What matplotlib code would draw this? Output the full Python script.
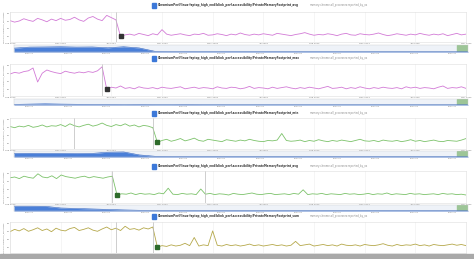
import matplotlib
matplotlib.use("Agg")
import matplotlib.pyplot as plt
import numpy as np

W, H = 474, 259

titles = [
    "ChromiumPerf/linux-laptop_high_end/blink_perf.accessibility/PrivateMemoryFootprint_avg",
    "ChromiumPerf/linux-laptop_high_end/blink_perf.accessibility/PrivateMemoryFootprint_max",
    "ChromiumPerf/linux-laptop_high_end/blink_perf.accessibility/PrivateMemoryFootprint_min",
    "ChromiumPerf/linux-laptop_high_end/blink_perf.accessibility/PrivateMemoryFootprint_avg",
    "ChromiumPerf/linux-laptop_high_end/blink_perf.accessibility/PrivateMemoryFootprint_sum",
]
subtitles = ["memory:chrome:all_processes:reported_by_os"] * 5

s1 = [62, 58, 61, 67, 63, 60, 68, 64, 59, 66, 62, 68, 63, 65, 71, 64, 60, 69, 73, 66, 62, 76, 70, 64,
      20, 24, 26, 23, 28, 25, 22, 27, 24, 38, 26, 23, 25, 27, 24, 22, 26, 25, 28, 23, 24, 27, 25, 22,
      26, 24, 29, 25, 23, 26, 24, 27, 25, 23, 28, 26, 24, 22, 25, 27, 30, 26, 23, 25, 24, 27, 25, 22,
      26, 28, 24, 23, 27, 25, 24, 26, 29, 25, 22, 24, 27, 25, 23, 26, 24, 28, 25, 23, 26, 24, 27, 22,
      25, 28, 24, 26]
s2 = [60, 64, 62, 66, 68, 75, 40, 62, 70, 66, 63, 61, 67, 64, 62, 65, 63, 66, 64, 68, 78,
      22, 27, 25, 30, 24, 26, 23, 28, 25, 24, 26, 23, 27, 25, 24, 26, 28, 23, 25, 27, 24, 26, 25,
      23, 28, 25, 24, 27, 26, 23, 25, 29, 24, 26, 25, 23, 27, 24, 26, 28, 25, 23, 26, 24, 27, 25,
      23, 26, 29, 24, 25, 27, 23, 26, 24, 28, 25, 23, 26, 24, 27, 25, 24, 26, 23, 28, 25, 27, 24,
      26, 25, 23, 27, 30, 24, 26, 25, 28, 24]
s3 = [63, 60, 64, 62, 66, 61, 63, 67, 62, 65, 64, 68, 63, 70, 65, 62, 66, 69, 64, 67, 72, 66, 63,
      68, 65, 70, 64, 67, 62, 66, 64, 60,
      22, 27, 30, 25, 28, 32, 26, 29, 33, 27, 25, 30, 28, 26, 24, 29, 27, 25, 28, 26, 30, 27, 25,
      24, 27, 26, 28, 45, 27, 25, 26, 28, 24, 27, 25, 29, 26, 24, 27, 25, 28, 26, 24, 27, 30, 26,
      25, 27, 24, 28, 26, 25, 27, 24, 26, 29, 25, 27, 24, 26, 28, 25, 24, 27, 26, 25, 28, 32]
s4 = [68, 70, 66, 72, 69, 67, 78, 70, 68, 73, 66, 75, 71, 69, 67, 70, 72, 68, 71, 69, 67, 70, 72,
      25, 28, 27, 30, 26, 29, 27, 28, 26, 30, 28, 42, 27, 26, 29, 27, 28, 26, 40, 27, 29, 26, 28,
      27, 25, 29, 27, 26, 28, 30, 27, 26, 28, 29, 26, 27, 28, 26, 29, 27, 38, 26, 28, 27, 29, 26,
      28, 27, 26, 29, 27, 28, 26, 27, 29, 26, 28, 27, 30, 26, 28, 27, 26, 29, 27, 28, 26, 27, 28,
      26, 29, 27, 28, 26, 27, 25]
s5 = [60, 66, 62, 68, 61, 65, 70, 63, 67, 60, 69, 64, 62, 68, 71, 63, 66, 70, 64, 61, 67, 72, 65,
      69, 63, 74, 66, 68, 64, 70, 67, 72,
      20, 24, 22, 26, 23, 25, 30, 24, 45, 23, 26, 24, 62, 25, 23, 27, 24, 26, 23, 25, 28, 24, 26,
      23, 25, 27, 24, 26, 23, 25, 35, 24, 26, 28, 23, 25, 27, 24, 26, 23, 28, 25, 24, 26, 23, 27,
      25, 24, 26, 29, 25, 23, 27, 24, 26, 25, 28, 24, 26, 23, 27, 25, 24, 26, 28, 25, 27, 24]
series = [s1, s2, s3, s4, s5]
drop_idx = [24, 21, 32, 23, 32]
extra_line_idx = [None, None, 14, 42, 23]

# overview (navigator) strips under the first four charts
nav1 = [0.55, 0.7, 0.72, 0.75, 0.7, 0.72, 0.6, 0.75, 0.58, 0.1, 0.08, 0.08, 0.08, 0.08, 0.08, 0.08, 0.08,
        0.08, 0.08, 0.08, 0.08, 0.08, 0.08, 0.08, 0.08, 0.08, 0.08, 0.08, 0.08, 0.08]
nav2 = [0.1, 0.15, 0.2, 0.15, 0.12, 0.1, 0.1, 0.08, 0.1, 0.08, 0.08, 0.1, 0.08, 0.08, 0.08, 0.08, 0.08, 0.08,
        0.08, 0.08, 0.08, 0.08, 0.08, 0.08, 0.08, 0.08, 0.08, 0.08, 0.08, 0.08]
nav3 = [0.6, 0.62, 0.6, 0.6, 0.58, 0.6, 0.8, 0.85, 0.35, 0.12, 0.1, 0.1, 0.1, 0.1, 0.1, 0.1, 0.1, 0.1,
        0.1, 0.1, 0.1, 0.1, 0.1, 0.1, 0.1, 0.1, 0.1, 0.1, 0.1, 0.1]
nav4 = [0.8, 0.8, 0.78, 0.5, 0.42, 0.34, 0.26, 0.18, 0.12, 0.1, 0.1, 0.1, 0.1, 0.1, 0.1, 0.1, 0.1, 0.1,
        0.1, 0.1, 0.1, 0.1, 0.1, 0.1, 0.1, 0.1, 0.1, 0.1, 0.1, 0.1]
navs = [nav1, nav2, nav3, nav4]
nav_dates = ["2023-11", "2023-12", "2024-01", "2024-02", "2024-03", "2024-04", "2024-05",
             "2024-06", "2024-07", "2024-08", "2024-09", "2024-10"]
x_dates = ["Sep 2023", "Nov 2023", "Jan 2024", "Mar 2024", "May 2024", "Jul 2024",
           "Sep 2024", "Nov 2024", "Jan 2025", "Mar 2025"]

colors = ["#d27ad6", "#d27ad6", "#7cc26a", "#7cc26a", "#b5a84a"]
marker_colors = ["#333333", "#333333", "#2e6b2a", "#2e6b2a", "#2e6b2a"]

# panel layout in pixels: (title_y, plot_top, plot_bottom, nav_top, nav_bottom)
panels = [(5, 12, 42, 45, 52), (58, 64, 96, 99, 105), (113, 118, 149, 151, 157),
          (166, 171, 203, 205, 211), (216, 222, 253, None, None)]


def rect(x0, y0, x1, y1):
    return [x0 / W, 1 - y1 / H, (x1 - x0) / W, (y1 - y0) / H]


fig = plt.figure(figsize=(W / 100, H / 100), dpi=100)
fig.patch.set_facecolor("white")

for i, (ty, top, bot, ntop, nbot) in enumerate(panels):
    y = series[i]
    x = np.arange(len(y))
    # title
    fig.patches.append(plt.Rectangle((152 / W, 1 - (ty + 3) / H), 4 / W, 5 / H,
                                     transform=fig.transFigure, color="#3c78d8"))
    fig.text(158 / W, 1 - ty / H, titles[i], fontsize=2.0, fontweight="bold",
             color="#333333", va="center")
    fig.text(310 / W, 1 - ty / H, subtitles[i], fontsize=1.8, color="#888888", va="center")

    ax = fig.add_axes(rect(10, top, 466, bot))
    ax.plot(x, y, color=colors[i], lw=0.6)
    d = drop_idx[i]
    ax.axvline(d - 1, color="#bbbbbb", lw=0.5)
    if extra_line_idx[i] is not None:
        ax.axvline(extra_line_idx[i], color="#bbbbbb", lw=0.5)
    ax.plot(x[d], y[d], marker="s", ms=2.2, color=marker_colors[i])
    ax.set_xlim(0, len(y) - 1)
    ax.set_ylim(5, 85)
    ax.set_xticks(np.linspace(0, len(y) - 1, len(x_dates)))
    ax.set_xticklabels(x_dates, fontsize=1.6, color="#777777")
    ax.set_yticks([20, 40, 60, 80])
    ax.set_yticklabels(["20", "40", "60", "80"], fontsize=1.6, color="#777777")
    ax.tick_params(length=0, pad=0.5)
    ax.grid(axis="x", color="#eeeeee", lw=0.4)
    for sp in ax.spines.values():
        sp.set_color("#dddddd")
        sp.set_linewidth(0.4)
    ax.set_ylabel("memory:chrome:all_processes", fontsize=1.5, color="#777777", labelpad=1)

    if ntop is not None:
        nav = fig.add_axes(rect(14, ntop, 468, nbot))
        nv = navs[i]
        nx = np.arange(len(nv))
        nav.set_facecolor("#eef2f8")
        nav.fill_between(nx, 0, nv, color="#4a7fd8", lw=0)
        nav.plot(nx, nv, color="#2a5fc0", lw=0.4)
        nav.axvspan(len(nv) - 1.7, len(nv) - 1, color="#9dc597")
        nav.set_xlim(0, len(nv) - 1)
        nav.set_ylim(0, 1)
        nav.set_xticks(np.linspace(1, len(nv) - 2, len(nav_dates)))
        nav.set_xticklabels(nav_dates, fontsize=1.5, color="#888888")
        nav.set_yticks([])
        nav.tick_params(length=0, pad=0.5)
        for sp in nav.spines.values():
            sp.set_color("#cccccd")
            sp.set_linewidth(0.3)

# gray bar at the bottom
fig.patches.append(plt.Rectangle((0, 0), 1, 5 / H, transform=fig.transFigure, color="#a9a9a9"))

fig.savefig("out.png", dpi=100)
